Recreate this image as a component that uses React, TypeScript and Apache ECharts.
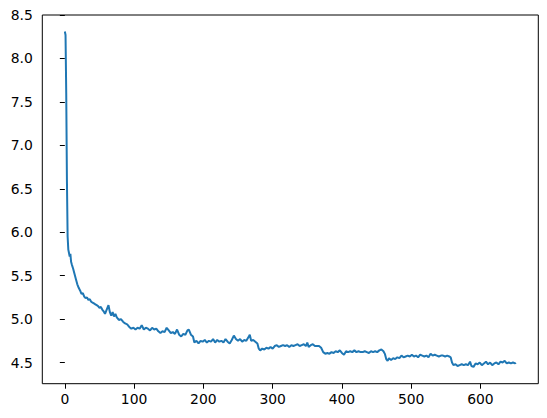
import React, { useEffect, useRef } from "react";
import * as echarts from "echarts";

const xTicks = [0, 100, 200, 300, 400, 500, 600];
const yTicks = [4.5, 5.0, 5.5, 6.0, 6.5, 7.0, 7.5, 8.0, 8.5];

const steps = [
  0, 1, 2, 3, 4, 5, 6, 7, 8, 9, 10, 12, 14, 16, 18, 20, 22, 24, 26, 28, 30, 32, 34, 36, 38, 40,
  42, 44, 46, 48, 50, 52, 54, 56, 58, 60, 62, 63, 65, 67, 69, 71, 73, 75, 78, 81, 84, 87, 90, 93,
  96, 99, 102, 105, 108, 111, 114, 117, 120, 123, 126, 129, 132, 135, 138, 141, 144, 147, 150,
  153, 156, 159, 162, 165, 168, 171, 174, 177, 179, 182, 185, 187, 190, 193, 196, 199, 202, 205,
  208, 211, 214, 217, 220, 223, 226, 229, 232, 235, 238, 241, 244, 247, 250, 253, 256, 259, 262,
  265, 267, 269, 272, 275, 278, 280, 282, 285, 288, 291, 294, 297, 300, 303, 306, 309, 312, 315,
  318, 321, 324, 327, 330, 333, 336, 339, 342, 345, 348, 350, 352, 355, 358, 361, 364, 367, 370,
  373, 376, 379, 382, 385, 388, 391, 394, 397, 400, 403, 406, 409, 412, 415, 418, 421, 424, 427,
  430, 433, 436, 439, 442, 445, 448, 451, 454, 457, 460, 462, 464, 466, 468, 471, 474, 477, 480,
  483, 486, 489, 492, 495, 498, 501, 504, 507, 510, 513, 516, 519, 522, 525, 528, 531, 534, 537,
  540, 543, 546, 549, 552, 555, 557, 559, 561, 564, 567, 570, 573, 576, 579, 582, 585, 587, 590,
  593, 596, 599, 602, 605, 608, 611, 614, 617, 620, 623, 626, 629, 632, 635, 638, 641, 644, 647,
  650, 651,
];

const loss = [
  8.31, 8.27, 7.6, 6.6, 5.95, 5.8, 5.76, 5.72, 5.75, 5.66, 5.63, 5.58, 5.52, 5.46, 5.4, 5.36, 5.33,
  5.29, 5.3, 5.26, 5.24, 5.25, 5.22, 5.23, 5.2, 5.19, 5.18, 5.17, 5.16, 5.15, 5.13, 5.14, 5.11,
  5.09, 5.06, 5.1, 5.14, 5.16, 5.08, 5.04, 5.08, 5.03, 5.06, 5.02, 4.99, 5.0, 4.97, 4.95, 4.94,
  4.91, 4.89, 4.9, 4.88, 4.9, 4.89, 4.93, 4.88, 4.9, 4.89, 4.87, 4.9, 4.88, 4.89, 4.86, 4.84,
  4.86, 4.85, 4.9, 4.87, 4.84, 4.85, 4.83, 4.88, 4.82, 4.8, 4.83, 4.82, 4.87, 4.88, 4.82, 4.8,
  4.73, 4.75, 4.72, 4.75, 4.74, 4.76, 4.73, 4.75, 4.74, 4.77, 4.73, 4.76, 4.74, 4.75, 4.73, 4.77,
  4.74, 4.72, 4.76, 4.81, 4.77, 4.75, 4.77, 4.74, 4.76, 4.75, 4.79, 4.82, 4.75, 4.76, 4.74, 4.72,
  4.66, 4.64, 4.66, 4.65, 4.67, 4.66, 4.68, 4.66, 4.69, 4.7, 4.68, 4.69, 4.7, 4.69, 4.7, 4.68,
  4.7, 4.69, 4.7, 4.71, 4.69, 4.7, 4.71, 4.69, 4.73, 4.68, 4.7, 4.71, 4.69, 4.69, 4.69, 4.67,
  4.62, 4.6, 4.61, 4.6, 4.62, 4.61, 4.63, 4.62, 4.64, 4.61, 4.59, 4.63, 4.62, 4.63, 4.62, 4.64,
  4.62, 4.63, 4.62, 4.62, 4.63, 4.62, 4.61, 4.63, 4.62, 4.63, 4.62, 4.64, 4.65, 4.63, 4.6, 4.54,
  4.52, 4.55, 4.53, 4.55, 4.54, 4.56, 4.55, 4.58, 4.56, 4.57, 4.58, 4.57, 4.59, 4.57, 4.58, 4.56,
  4.59, 4.58, 4.57, 4.58, 4.56, 4.6, 4.58, 4.59, 4.58, 4.57, 4.58, 4.58, 4.57, 4.58, 4.57, 4.56,
  4.5, 4.47, 4.48, 4.46, 4.47, 4.48, 4.47, 4.48, 4.47, 4.51, 4.46, 4.45, 4.49, 4.48, 4.5, 4.47,
  4.49, 4.51, 4.48, 4.5, 4.47, 4.49, 4.5, 4.48, 4.51, 4.5, 4.52, 4.49, 4.5, 4.49, 4.5, 4.49, 4.5,
];

const FONT = "DejaVu Sans";

export default function App() {
  const ref = useRef<HTMLDivElement>(null);
  useEffect(() => {
    if (!ref.current) return;
    const chart = echarts.init(ref.current, undefined, { renderer: "svg" });
    const data = steps.map((s, i) => [s, loss[i]]);
    chart.setOption({
      animation: false,
      backgroundColor: "#ffffff",
      grid: {
        left: 42.3,
        right: 8.7,
        top: 15,
        bottom: 34.3,
        show: true,
        borderColor: "#000000",
        borderWidth: 1,
        backgroundColor: "transparent",
      },
      xAxis: {
        type: "value",
        min: -32.55,
        max: 683.55,
        axisLine: { show: false },
        splitLine: { show: false },
        axisTick: {
          show: true,
          customValues: xTicks,
          length: 5,
          lineStyle: { color: "#000", width: 1 },
        },
        axisLabel: {
          customValues: xTicks,
          formatter: (v: number) => String(v),
          margin: 8,
          color: "#000",
          fontFamily: FONT,
          fontSize: 13.9,
        },
      },
      yAxis: {
        type: "value",
        min: 4.2565,
        max: 8.5,
        axisLine: { show: false },
        splitLine: { show: false },
        axisTick: {
          show: true,
          customValues: yTicks,
          length: 5,
          lineStyle: { color: "#000", width: 1 },
        },
        axisLabel: {
          customValues: yTicks,
          formatter: (v: number) => v.toFixed(1),
          margin: 9.5,
          color: "#000",
          fontFamily: FONT,
          fontSize: 13.9,
        },
      },
      series: [
        {
          type: "line",
          data,
          showSymbol: false,
          symbol: "none",
          lineStyle: { color: "#1f77b4", width: 2 },
          itemStyle: { color: "#1f77b4" },
        },
      ],
    });
    return () => chart.dispose();
  }, []);
  return (
    <div
      ref={ref}
      style={{ position: "fixed", left: 0, top: 0, width: 547, height: 418, background: "#fff" }}
    />
  );
}
